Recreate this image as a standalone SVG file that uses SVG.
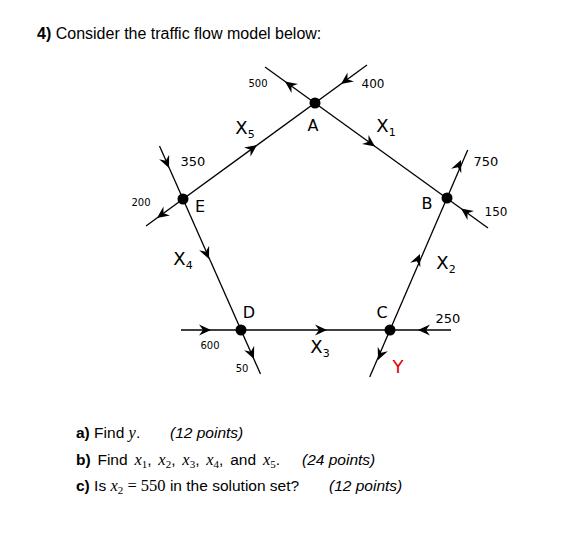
<svg xmlns="http://www.w3.org/2000/svg" width="580" height="543" viewBox="0 0 580 543">
<defs>
<style>
.ln{stroke:#000;stroke-width:1.3;fill:none}
.dot{fill:#000}
.hw{font-family:"DejaVu Sans","Liberation Sans",sans-serif;fill:#000}
.num{font-size:12px}
.lab{font-size:16px}
.xl{font-size:18px}
.sub{font-size:11px}
.tx{font-family:"Liberation Sans",Arial,sans-serif;font-size:15.5px;fill:#000}
.b{font-weight:bold}
.it{font-style:italic}
.m{font-family:"Liberation Serif","Times New Roman",serif;font-size:16.5px}
.mi{font-family:"Liberation Serif","Times New Roman",serif;font-style:italic;font-size:16.5px}
.ms{font-family:"Liberation Serif","Times New Roman",serif;font-size:11px}
</style>
<path id="ah" d="M0,0 L-12,-5.5 L-8,0 L-12,5.5 Z" fill="#000"/>
</defs>
<rect width="580" height="543" fill="#fff"/>

<text class="tx" x="37" y="39" style="font-size:16px"><tspan class="b">4)</tspan> Consider the traffic flow model below:</text>

<g id="connectors">
<line class="ln" x1="265" y1="67" x2="488" y2="228"/>
<line class="ln" x1="367" y1="65" x2="146" y2="226"/>
<line class="ln" x1="159.5" y1="146" x2="260.5" y2="374"/>
<line class="ln" x1="467.7" y1="150" x2="369.7" y2="377"/>
<line class="ln" x1="181" y1="330" x2="451" y2="330"/>
<use href="#ah" transform="translate(285,81.5) rotate(215.8)"/>
<use href="#ah" transform="translate(341,84) rotate(144)"/>
<use href="#ah" transform="translate(257,145) rotate(-36)"/>
<use href="#ah" transform="translate(375,146.5) rotate(35.8)"/>
<use href="#ah" transform="translate(169,168) rotate(66.1)"/>
<use href="#ah" transform="translate(157,218) rotate(144)"/>
<use href="#ah" transform="translate(209,259) rotate(66.1)"/>
<use href="#ah" transform="translate(461,160) rotate(-66.6)"/>
<use href="#ah" transform="translate(461,208.5) rotate(215.8)"/>
<use href="#ah" transform="translate(420,254) rotate(-66.6)"/>
<use href="#ah" transform="translate(211,330) rotate(0)"/>
<use href="#ah" transform="translate(254,359) rotate(66.1)"/>
<use href="#ah" transform="translate(327,330) rotate(0)"/>
<use href="#ah" transform="translate(418,330) rotate(180)"/>
<use href="#ah" transform="translate(378,360) rotate(113.4)"/>
</g>

<g id="A"><circle class="dot" cx="315" cy="103" r="5.5"/><text class="hw lab" x="313" y="131" text-anchor="middle">A</text></g>
<g id="B"><circle class="dot" cx="447" cy="198" r="5.5"/><text class="hw lab" x="427" y="209" text-anchor="middle">B</text></g>
<g id="C"><circle class="dot" cx="390" cy="330" r="5.5"/><text class="hw lab" x="382" y="318" text-anchor="middle">C</text></g>
<g id="D"><circle class="dot" cx="241" cy="330" r="5.5"/><text class="hw lab" x="249" y="318" text-anchor="middle">D</text></g>
<g id="E"><circle class="dot" cx="183" cy="199" r="5.5"/><text class="hw lab" x="200" y="212" text-anchor="middle">E</text></g>

<g id="labels">
<text class="hw num" x="258" y="87" text-anchor="middle" style="font-size:10px">500</text>
<text class="hw num" x="373" y="88" text-anchor="middle">400</text>
<text class="hw xl" x="245" y="134" text-anchor="middle">X<tspan class="sub" dy="4">5</tspan></text>
<text class="hw xl" x="386" y="132" text-anchor="middle">X<tspan class="sub" dy="4">1</tspan></text>
<text class="hw num" x="193" y="166" text-anchor="middle" style="font-size:13px">350</text>
<text class="hw num" x="141" y="206" text-anchor="middle" style="font-size:10px">200</text>
<text class="hw xl" x="183" y="265" text-anchor="middle">X<tspan class="sub" dy="4">4</tspan></text>
<text class="hw num" x="486" y="166" text-anchor="middle" style="font-size:13px">750</text>
<text class="hw num" x="496" y="216" text-anchor="middle">150</text>
<text class="hw xl" x="446" y="269" text-anchor="middle">X<tspan class="sub" dy="4">2</tspan></text>
<text class="hw num" x="210" y="349" text-anchor="middle" style="font-size:10px">600</text>
<text class="hw num" x="242" y="372" text-anchor="middle" style="font-size:10px">50</text>
<text class="hw xl" x="320" y="353" text-anchor="middle">X<tspan class="sub" dy="4">3</tspan></text>
<text class="hw num" x="448" y="323" text-anchor="middle" style="font-size:13px">250</text>
<text class="hw xl" x="398" y="373" text-anchor="middle" style="fill:#e00000">Y</text>
</g>

<g id="questions">
<text class="tx" x="76" y="438"><tspan class="b">a)</tspan> Find <tspan class="mi">y</tspan>.</text>
<text class="tx it" x="170" y="438">(12 points)</text>
<text class="tx" x="76" y="465" style="word-spacing:2.5px"><tspan class="b">b)</tspan> Find <tspan class="mi">x</tspan><tspan class="ms" dy="3">1</tspan><tspan dy="-3">, </tspan><tspan class="mi">x</tspan><tspan class="ms" dy="3">2</tspan><tspan dy="-3">, </tspan><tspan class="mi">x</tspan><tspan class="ms" dy="3">3</tspan><tspan dy="-3">, </tspan><tspan class="mi">x</tspan><tspan class="ms" dy="3">4</tspan><tspan dy="-3">, and </tspan><tspan class="mi">x</tspan><tspan class="ms" dy="3">5</tspan><tspan dy="-3">.</tspan></text>
<text class="tx it" x="302" y="465">(24 points)</text>
<text class="tx" x="76" y="491"><tspan class="b">c)</tspan> Is <tspan class="mi">x</tspan><tspan class="ms" dy="3">2</tspan><tspan class="m" dy="-3"> = 550</tspan> in the solution set?</text>
<text class="tx it" x="329" y="491">(12 points)</text>
</g>
</svg>
